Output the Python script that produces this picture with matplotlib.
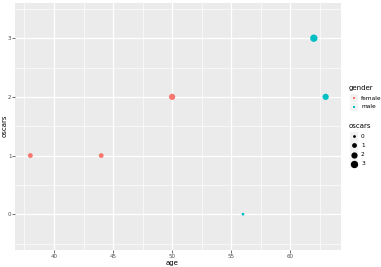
import matplotlib.pyplot as plt
import numpy as np
from matplotlib.patches import Rectangle

# data
ages = [38, 44, 50, 56, 62, 63]
oscars = [1, 1, 2, 0, 3, 2]
genders = ['female', 'female', 'female', 'male', 'male', 'male']
gender_levels = ['female', 'male']
gender_colors = {'female': '#F8766D', 'male': '#00BFC4'}
size_levels = [0, 1, 2, 3]
x_ticks = [40, 45, 50, 55, 60]
y_ticks = [0, 1, 2, 3]


def point_size(v):
    return 4 + 8 * v


W, H = 381, 267
fig = plt.figure(figsize=(W / 100, H / 100), dpi=100)
ax = fig.add_axes([15 / W, 1 - 250 / H, (341 - 15) / W, (250 - 3) / H])
ax.set_facecolor('#EBEBEB')
for s in ax.spines.values():
    s.set_visible(False)

ax.set_xlim(36.7, 64.3)
ax.set_ylim(-0.61, 3.6)
ax.set_xticks(x_ticks)
ax.set_yticks(y_ticks)
ax.set_xticks([37.5, 42.5, 47.5, 52.5, 57.5, 62.5], minor=True)
ax.set_yticks([-0.5, 0.5, 1.5, 2.5, 3.5], minor=True)
ax.grid(which='major', color='white', linewidth=0.9)
ax.grid(which='minor', color='white', linewidth=0.45)
ax.set_axisbelow(True)
ax.tick_params(which='major', length=2, color='#333333', width=0.5,
               labelsize=4, labelcolor='#4D4D4D', pad=0.6)
ax.tick_params(which='minor', length=0)

cols = [gender_colors[g] for g in genders]
ax.scatter(ages, oscars, s=[point_size(v) for v in oscars], c=cols,
           linewidths=0, zorder=3)

# axis titles and legend drawn in pixel coordinates
lg = fig.add_axes([0, 0, 1, 1])
lg.set_xlim(0, W)
lg.set_ylim(H, 0)
lg.axis('off')
lg.patch.set_alpha(0)

lg.text(172, 263.5, 'age', fontsize=5, va='center', ha='center')
lg.text(4.5, 126, 'oscars', fontsize=5, va='center', ha='center', rotation=90)

lg.text(349, 88, 'gender', fontsize=5, va='center', ha='left', color='black')
for i, g in enumerate(gender_levels):
    y = 98 + i * 9
    lg.add_patch(Rectangle((350, y - 4), 8, 8, facecolor='#F2F2F2', edgecolor='none'))
    lg.scatter([354], [y], s=3.5, marker='s', color=gender_colors[g], linewidths=0)
    lg.text(361, y, g, fontsize=4.2, va='center', ha='left')

lg.text(349, 126, 'oscars', fontsize=5, va='center', ha='left', color='black')
for i, v in enumerate(size_levels):
    y = 136 + i * 9.3
    lg.add_patch(Rectangle((350, y - 4.5), 8, 9, facecolor='#F2F2F2', edgecolor='none'))
    lg.scatter([354], [y], s=point_size(v), color='black', linewidths=0)
    lg.text(361, y, str(v), fontsize=4.2, va='center', ha='left')

fig.savefig('out.png', dpi=100)
